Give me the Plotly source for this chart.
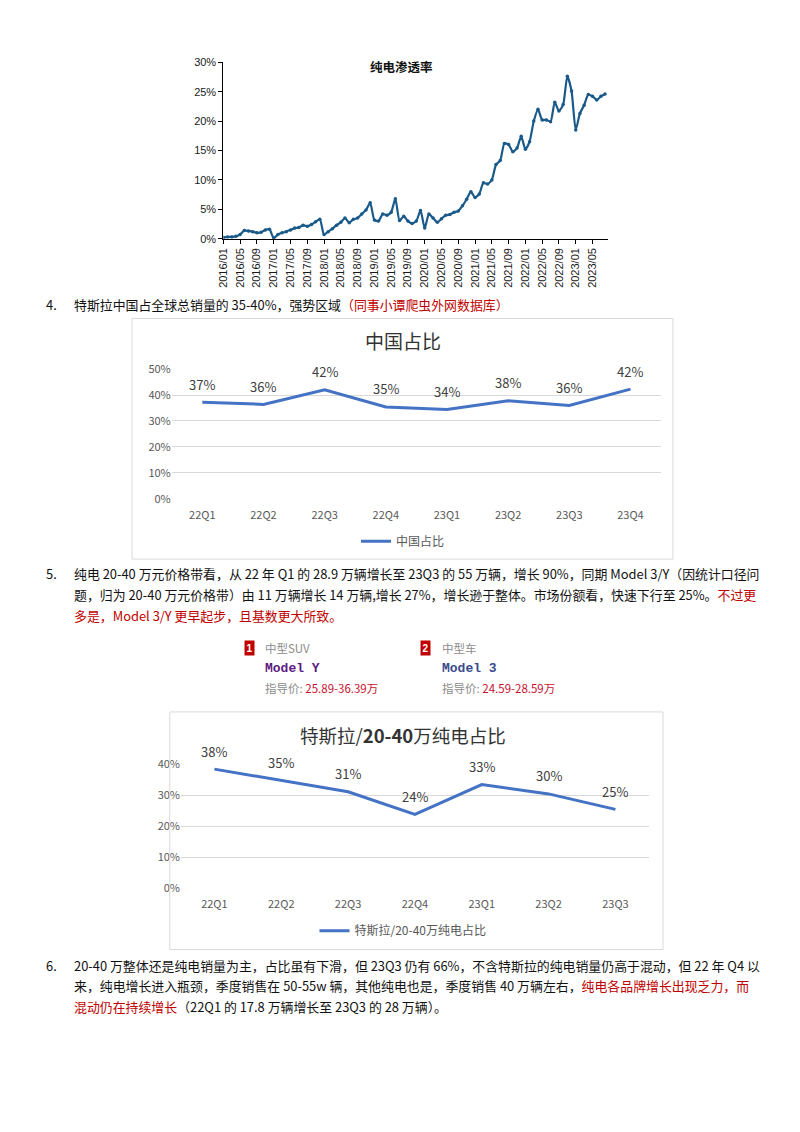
import plotly.graph_objects as go

W, H = 800, 1132

# ---------------- data ----------------
months = [f"{y}/{m:02d}" for y in range(2016, 2024) for m in range(1, 13)][:92]
bev_share_pct = [
    0.2, 0.3, 0.3, 0.4, 0.7, 1.4, 1.3, 1.2, 1.0, 1.1, 1.5, 1.6,      # 2016
    0.1, 0.7, 1.0, 1.2, 1.5, 1.8, 1.9, 2.3, 2.1, 2.4, 2.9, 3.3,      # 2017
    0.7, 1.2, 1.7, 2.3, 2.8, 3.5, 2.7, 3.3, 3.5, 4.2, 4.9, 6.1,      # 2018
    3.2, 3.0, 4.2, 4.0, 4.5, 6.8, 3.1, 3.8, 3.0, 2.6, 3.0, 4.8,      # 2019
    1.8, 4.2, 3.5, 2.8, 3.4, 4.0, 4.1, 4.5, 4.7, 5.6, 6.7, 8.0,      # 2020
    7.0, 7.6, 9.5, 9.3, 10.0, 12.6, 13.3, 16.2, 16.0, 14.8, 15.4, 17.4,  # 2021
    15.2, 16.5, 20.0, 22.0, 20.2, 20.2, 19.9, 23.2, 21.7, 22.8, 27.6, 25.1,  # 2022
    18.5, 21.3, 22.7, 24.5, 24.2, 23.6, 24.2, 24.6,                  # 2023
]
month_ticks = months[::4]

quarters_cn = ["22Q1", "22Q2", "22Q3", "22Q4", "23Q1", "23Q2", "23Q3", "23Q4"]
china_share = [0.372, 0.364, 0.420, 0.354, 0.344, 0.378, 0.360, 0.423]

quarters_t = ["22Q1", "22Q2", "22Q3", "22Q4", "23Q1", "23Q2", "23Q3"]
tesla_share = [0.384, 0.347, 0.311, 0.238, 0.334, 0.304, 0.254]

RED = "#c00000"
BODY_FONT = "Noto Sans CJK SC"


def px(x):
    return x / W


def py(y):
    return 1 - y / H


fig = go.Figure()

# ---------------- chart 1 ----------------
fig.add_trace(go.Scatter(
    x=months, y=[v / 100 for v in bev_share_pct],
    mode="lines+markers", line=dict(color="#1a5a8a", width=2.2, shape="spline", smoothing=0.6),
    marker=dict(size=3.5, color="#1a5a8a"), xaxis="x", yaxis="y", showlegend=False,
))

# ---------------- chart 2 ----------------
fig.add_trace(go.Scatter(
    x=quarters_cn, y=china_share, mode="lines", name="中国占比",
    line=dict(color="#4472c4", width=3), xaxis="x2", yaxis="y2", legend="legend",
))

# ---------------- chart 3 ----------------
fig.add_trace(go.Scatter(
    x=quarters_t, y=tesla_share, mode="lines", name="特斯拉/20-40万纯电占比",
    line=dict(color="#4472c4", width=3), xaxis="x3", yaxis="y3", legend="legend2",
))

annotations = []
# data labels
for q, v in zip(quarters_cn, china_share):
    annotations.append(dict(x=q, y=v, xref="x2", yref="y2", text=f"{round(v*100):d}%",
                            showarrow=False, yshift=18,
                            font=dict(family=BODY_FONT, size=13, color="#404040")))
for q, v in zip(quarters_t, tesla_share):
    annotations.append(dict(x=q, y=v, xref="x3", yref="y3", text=f"{round(v*100):d}%",
                            showarrow=False, yshift=18,
                            font=dict(family=BODY_FONT, size=13, color="#404040")))


def title(x, y, text, size, color):
    annotations.append(dict(x=px(x), y=py(y), xref="paper", yref="paper", text=text,
                            xanchor="center", yanchor="middle", showarrow=False,
                            font=dict(family=BODY_FONT, size=size, color=color)))


title(398, 58, "<b>纯电渗透率</b>", 12.5, "#111")
title(400, 336, "中国占比", 19, "#333")
title(400, 736, "特斯拉/<b>20-40</b>万纯电占比", 18.5, "#333")


def line(x, y, text, size=12.9, color="#111"):
    annotations.append(dict(x=px(x), y=py(y), xref="paper", yref="paper", text=text,
                            xanchor="left", yanchor="middle", showarrow=False,
                            font=dict(family=BODY_FONT, size=size, color=color)))


def red(t):
    return f'<span style="color:{RED}">{t}</span>'


# paragraph 4
line(38, 300, "4.")
line(67, 300, "特斯拉中国占全球总销量的 35-40%，强势区域" + red("（同事小谭爬虫外网数据库）"))
# paragraph 5
line(38, 573, "5.")
line(67, 573, "纯电 20-40 万元价格带看，从 22 年 Q1 的 28.9 万辆增长至 23Q3 的 55 万辆，增长 90%，同期 Model 3/Y（因统计口径问")
line(67, 594, "题，归为 20-40 万元价格带）由 11 万辆增长 14 万辆,增长 27%，增长逊于整体。市场份额看，快速下行至 25%。" + red("不过更"))
line(67, 615, red("多是，Model 3/Y 更早起步，且基数更大所致。"))
# paragraph 6
line(38, 970, "6.")
line(67, 970, "20-40 万整体还是纯电销量为主，占比虽有下滑，但 23Q3 仍有 66%，不含特斯拉的纯电销量仍高于混动，但 22 年 Q4 以")
line(67, 991, "来，纯电增长进入瓶颈，季度销售在 50-55w 辆，其他纯电也是，季度销售 40 万辆左右，" + red("纯电各品牌增长出现乏力，而"))
line(67, 1012, red("混动仍在持续增长") + "（22Q1 的 17.8 万辆增长至 23Q3 的 28 万辆）。")

# model cards
for bx, num, cat, model, mcolor, price in [
    (245, "1", "中型SUV", "Model Y", "#5c1a82", "25.89-36.39万"),
    (423, "2", "中型车", "Model 3", "#3a4a8c", "24.59-28.59万"),
]:
    annotations.append(dict(x=px(bx), y=py(648), xref="paper", yref="paper", text=f"<b>{num}</b>",
                            showarrow=False, bgcolor=RED, borderpad=1.5,
                            xanchor="center", yanchor="middle",
                            font=dict(family="Liberation Sans", size=10, color="white")))
    line(bx + 14, 648, cat, size=11.5, color="#8c8c8c")
    line(bx + 14, 669, f"<b>{model}</b>", size=13, color=mcolor)
    annotations[-1]["font"]["family"] = "Liberation Mono"
    line(bx + 14, 689, "指导价: " + f'<span style="color:#c8102e">{price}</span>', size=11.5, color="#8c8c8c")

shapes = [
    dict(type="rect", xref="paper", yref="paper", x0=px(127), x1=px(672), y0=py(314), y1=py(558),
         line=dict(color="#d9d9d9", width=1)),
    dict(type="rect", xref="paper", yref="paper", x0=px(165), x1=px(662), y0=py(713), y1=py(954),
         line=dict(color="#d9d9d9", width=1)),
]

axfont = dict(family="Liberation Sans", size=11, color="#1a1a1a")
gray_font = dict(family=BODY_FONT, size=11, color="#595959")

fig.update_layout(
    width=W, height=H, margin=dict(l=0, r=0, t=0, b=0), autosize=False,
    paper_bgcolor="white", plot_bgcolor="white",
    annotations=annotations, shapes=shapes,
    xaxis=dict(domain=[px(219), px(607)], type="category", categoryorder="array", categoryarray=months,
               range=[0, 91.8], tickmode="array", tickvals=month_ticks, ticktext=month_ticks,
               tickangle=-90, showline=True, linecolor="#000", linewidth=1, ticks="outside",
               ticklen=4, tickcolor="#000", showgrid=False, zeroline=False, tickfont=axfont,
               anchor="y", fixedrange=True),
    yaxis=dict(domain=[py(233), py(54)], range=[0, 0.30], dtick=0.05, tickformat=".0%",
               showline=True, linecolor="#000", linewidth=1, ticks="outside", ticklen=4,
               tickcolor="#000", showgrid=False, zeroline=False, tickfont=axfont, anchor="x"),
    xaxis2=dict(domain=[px(167), px(660)], type="category", range=[-0.5, 7.5],
                showline=False, showgrid=False, zeroline=False, tickfont=gray_font,
                ticks="outside", ticklen=6, tickcolor="rgba(0,0,0,0)", anchor="y2"),
    yaxis2=dict(domain=[py(496.7), py(365.3)], range=[0, 0.5], dtick=0.1, tickformat=".0%",
                showgrid=True, gridcolor="#d9d9d9", gridwidth=1, zeroline=False, showline=False,
                tickfont=gray_font, anchor="x2"),
    xaxis3=dict(domain=[px(176.3), px(647.7)], type="category", range=[-0.5, 6.5],
                showline=False, showgrid=False, zeroline=False, tickfont=gray_font,
                ticks="outside", ticklen=6, tickcolor="rgba(0,0,0,0)", anchor="y3"),
    yaxis3=dict(domain=[py(891.7), py(766)], range=[0, 0.4], dtick=0.1, tickformat=".0%",
                showgrid=True, gridcolor="#d9d9d9", gridwidth=1, zeroline=False, showline=False,
                tickfont=gray_font, anchor="x3"),
    legend=dict(x=px(400), y=py(540), xanchor="center", yanchor="middle", orientation="h",
                font=dict(family=BODY_FONT, size=12, color="#595959"), bgcolor="rgba(0,0,0,0)"),
    legend2=dict(x=px(400), y=py(935), xanchor="center", yanchor="middle", orientation="h",
                 font=dict(family=BODY_FONT, size=12, color="#595959"), bgcolor="rgba(0,0,0,0)"),
)

fig.write_html("out.html", config={"displayModeBar": False},
               post_script="document.body.style.margin='0';document.body.style.overflow='hidden';")
